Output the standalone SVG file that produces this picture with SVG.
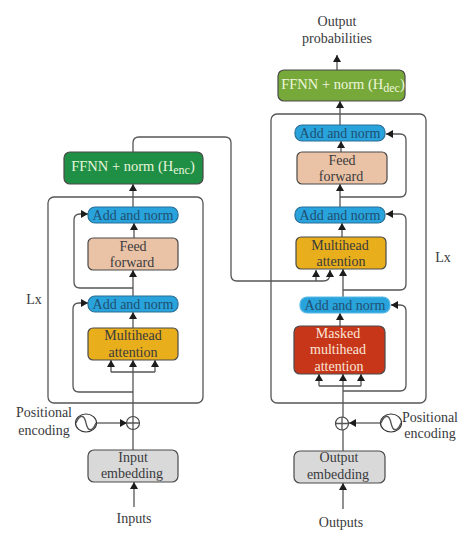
<svg xmlns="http://www.w3.org/2000/svg" width="474" height="547" viewBox="0 0 474 547">
<style>
text{font-family:"Liberation Serif",serif;font-size:14px;fill:#3a3a3c;text-anchor:middle}
.n{stroke:#4a4a4a;stroke-width:1.2}
.c{fill:none;stroke:#555;stroke-width:1.3}
.b{fill:#29a3dc;stroke:#2a6f96;stroke-width:1.2}
.bt{fill:#1f4f70}
.p{fill:#eac3a6}
.y{fill:#e8ae1c}
.g{fill:#d9d9d9}
.frame{fill:none;stroke:#555;stroke-width:1.3}
.ff{font-size:14.500px}
</style>
<defs>
<marker id="a" markerUnits="userSpaceOnUse" markerWidth="8" markerHeight="8" refX="7" refY="4" orient="auto"><path d="M0 0L7 4L0 8z" fill="#1c1c1c"/></marker>
</defs>
<rect width="474" height="547" fill="#fff"/>
<g id="frames">
<rect class="frame" x="48" y="197" width="155" height="206" rx="6"/>
<rect class="frame" x="271" y="114" width="155" height="289" rx="6"/>
</g>
<g id="connectors">
<path class="c" d="M133 152V143Q133 137 139 137H225Q231 137 231 143V275Q231 281 237 281H323Q330 281 330 274V270" marker-end="url(#a)"/>
<path class="c" d="M316 281V270" marker-end="url(#a)"/>
<path class="c" d="M133 197V184" marker-end="url(#a)"/>
<path class="c" d="M133 207V197"/>
<path class="c" d="M134 238V223" marker-end="url(#a)"/>
<path class="c" d="M133 296V270" marker-end="url(#a)"/>
<path class="c" d="M133 288H80Q74 288 74 282V220Q74 214 80 214H88" marker-end="url(#a)"/>
<path class="c" d="M133 328V312" marker-end="url(#a)"/>
<path class="c" d="M133 392H79Q73 392 73 386V309Q73 303 79 303H88" marker-end="url(#a)"/>
<path class="c" d="M133 450V360" marker-end="url(#a)"/>
<path class="c" d="M111 372V360" marker-end="url(#a)"/>
<path class="c" d="M155 372V360" marker-end="url(#a)"/>
<path class="c" d="M111 372H155"/>
<path class="c" d="M96 423H127" marker-end="url(#a)"/>
<path class="c" d="M134 507V482" marker-end="url(#a)"/>
<path class="c" d="M337 70V55" marker-end="url(#a)"/>
<path class="c" d="M340 125V101" marker-end="url(#a)"/>
<path class="c" d="M341 152V141" marker-end="url(#a)"/>
<path class="c" d="M340 207V184" marker-end="url(#a)"/>
<path class="c" d="M340 197H400Q406 197 406 191V140Q406 134 400 134H386" marker-end="url(#a)"/>
<path class="c" d="M342 237V223" marker-end="url(#a)"/>
<path class="c" d="M343 297V269" marker-end="url(#a)"/>
<path class="c" d="M343 290H400Q406 290 406 284V220Q406 214 400 214H386" marker-end="url(#a)"/>
<path class="c" d="M340 326V313" marker-end="url(#a)"/>
<path class="c" d="M343 451V374" marker-end="url(#a)"/>
<path class="c" d="M319 386V374" marker-end="url(#a)"/>
<path class="c" d="M361 386V374" marker-end="url(#a)"/>
<path class="c" d="M319 386H361"/>
<path class="c" d="M343 391H400Q406 391 406 385V311Q406 305 400 305H391" marker-end="url(#a)"/>
<path class="c" d="M381 423H349" marker-end="url(#a)"/>
<path class="c" d="M343 509V483" marker-end="url(#a)"/>
</g>
<g id="enc-ffnn"><rect class="n" x="64" y="152" width="139" height="32" rx="6" fill="#1f8f45"/><text class="ff" x="133" y="171" style="fill:#e8f5dc">FFNN + norm (H<tspan dy="3" font-size="12">enc</tspan><tspan dy="-3">)</tspan></text></g>
<g id="enc-add2"><rect class="b" x="88" y="207" width="90" height="16" rx="7"/><text class="bt" x="133" y="219.500">Add and norm</text></g>
<g id="enc-feed"><rect class="n p" x="88" y="238" width="90" height="32" rx="5"/><text x="133" y="250.500">Feed</text><text x="132" y="267">forward</text></g>
<g id="enc-add1"><rect class="b" x="88" y="296" width="90" height="16" rx="7"/><text class="bt" x="133" y="308.500">Add and norm</text></g>
<g id="enc-multi"><rect class="n y" x="88" y="328" width="90" height="32" rx="5"/><text x="133" y="340">Multihead</text><text x="133" y="357">attention</text></g>
<g id="enc-embed"><rect class="n g" x="88" y="450" width="90" height="32" rx="6"/><text x="133" y="462">Input</text><text x="132" y="478">embedding</text></g>
<g id="enc-sum"><circle cx="133" cy="423" r="6.500" fill="#fff" stroke="#444" stroke-width="1.200"/><path class="c" d="M126.500 423H139.500M133 416.500V429.500"/></g>
<g id="enc-pos"><ellipse cx="86" cy="423" rx="10.500" ry="9" fill="#fff" stroke="#333" stroke-width="1.200"/><path class="c" d="M76 423C80 414 84 414 86 423S92 432 96 423"/></g>
<g id="dec-ffnn"><rect class="n" x="278" y="70" width="127" height="31" rx="6" fill="#77a93a"/><text class="ff" x="343" y="89" style="fill:#eef5dc">FFNN + norm (H<tspan dy="3" font-size="12">dec</tspan><tspan dy="-3">)</tspan></text></g>
<g id="dec-add3"><rect class="b" x="295" y="125" width="90" height="16" rx="7"/><text class="bt" x="340" y="137.500">Add and norm</text></g>
<g id="dec-feed"><rect class="n p" x="297" y="152" width="90" height="32" rx="5"/><text x="342" y="164.500">Feed</text><text x="341" y="181">forward</text></g>
<g id="dec-add2"><rect class="b" x="295" y="207" width="90" height="16" rx="7"/><text class="bt" x="340" y="219.500">Add and norm</text></g>
<g id="dec-multi"><rect class="n y" x="296" y="237" width="90" height="32" rx="5"/><text x="340" y="249.500">Multihead</text><text x="341" y="266">attention</text></g>
<g id="dec-add1"><rect x="300" y="297" width="90" height="16" rx="7" fill="#29a3dc" stroke="#5dbbe6" stroke-width="1.200"/><text class="bt" x="345" y="309.500">Add and norm</text></g>
<g id="dec-masked"><rect class="n" x="294" y="326" width="91" height="48" rx="6" fill="#c8361a"/><text x="338" y="337.500" style="fill:#fbe6d8">Masked</text><text x="338" y="354" style="fill:#fbe6d8">multihead</text><text x="339" y="371" style="fill:#fbe6d8">attention</text></g>
<g id="dec-embed"><rect class="n g" x="294" y="451" width="91" height="32" rx="6"/><text x="339" y="462">Output</text><text x="338" y="479">embedding</text></g>
<g id="dec-sum"><circle cx="342" cy="423.500" r="6.500" fill="#fff" stroke="#444" stroke-width="1.200"/><path class="c" d="M335.500 423.500H348.500M342 417V430"/></g>
<g id="dec-pos"><ellipse cx="391" cy="423" rx="10.500" ry="9" fill="#fff" stroke="#333" stroke-width="1.200"/><path class="c" d="M381 423C385 414 389 414 391 423S397 432 401 423"/></g>
<g id="labels">
<text x="337" y="26">Output</text><text x="337" y="43">probabilities</text>
<text x="34" y="304">Lx</text><text x="443" y="262">Lx</text>
<text x="44" y="417">Positional</text><text x="44" y="435">encoding</text>
<text x="430" y="422">Positional</text><text x="430" y="438">encoding</text>
<text x="134" y="523">Inputs</text><text x="341" y="527">Outputs</text>
</g>
</svg>
